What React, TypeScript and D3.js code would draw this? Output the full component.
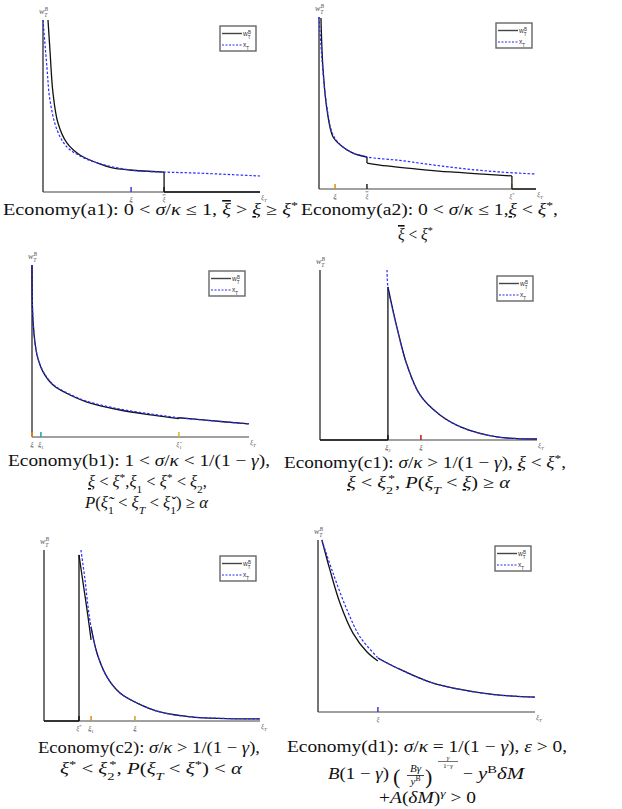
import React from 'react';
import * as d3 from 'd3';

type Pt = [number, number];
type Tick = { at: number; deco?: 'u' | 'o' | 't'; sub?: string; sup?: string };

// x = xi_T, y = wealth, both read as % of each panel's plotted range.
// w_T^B (black) is split where it jumps; x_T (blue dashed) is one piece.
const a1Wealth: Pt[][] = [
  [[2.3, 100], [3.2, 82.6], [4.6, 57.6], [6.9, 40.1], [11, 28.5], [17, 21.5], [25, 16.9], [32, 14], [40, 12.8], [55.8, 11.6]],
  [[55.8, 11.6], [55.8, 0]],
  [[55.8, 0], [100, 0]],
];
const a1Target: Pt[] = [[0, 100], [1.8, 72.7], [3.2, 53.5], [6.5, 36], [11, 26.2], [17, 21], [25, 16.9], [40, 12.8], [55.8, 11.6], [71, 11], [100, 9.3]];
const a1Ticks: Tick[] = [{ at: 40.6, deco: 'u' }, { at: 55.8, deco: 'o' }];
const a1TickColors = ['#3b3bd8', '#222'];

const a2Wealth: Pt[][] = [
  [[0.9, 99.4], [1.8, 70.9], [3.7, 45.9], [6.5, 30.2], [11, 24.4], [15.7, 20.9], [22.1, 18.6]],
  [[22.1, 18.6], [22.1, 15.1]],
  [[22.1, 15.1], [31.3, 13.4], [45.2, 11.6], [60.4, 9.9], [75.6, 8.7], [88.9, 7.6]],
  [[88.9, 7.6], [88.9, 0]],
  [[88.9, 0], [100, 0]],
];
const a2Target: Pt[] = [[0, 100], [1.4, 75], [3.2, 51.7], [6.5, 31.4], [11, 24.4], [15.7, 20.9], [22.1, 18.6], [37.3, 16.6], [52.5, 14], [68.2, 11.6], [83.4, 9.9], [100, 8.7]];
const a2Ticks: Tick[] = [{ at: 7.4, deco: 'u' }, { at: 22.1, deco: 'o' }, { at: 88.9, sup: '*' }];
const a2TickColors = ['#e08a10', '#222', '#e0c020'];

const b1Wealth: Pt[][] = [
  [[0, 100], [0.5, 66.9], [2.3, 47.7], [5.1, 37.8], [9.7, 30.2], [17.5, 24.4], [25.3, 20.3], [40.6, 15.7], [55.8, 12.7], [67.7, 10.7]],
  [[67.7, 10.7], [67.7, 11.2]],
  [[67.7, 11.2], [78.8, 9.9], [100, 7.6]],
];
const b1Target: Pt[] = [[0, 100], [0.5, 67.3], [2.3, 48.1], [5.1, 38.2], [9.7, 30.6], [17.5, 24.8], [25.3, 20.8], [40.6, 16.2], [55.8, 13.2], [67.7, 11.2], [78.8, 9.9], [100, 7.6]];
const b1Ticks: Tick[] = [{ at: 0, deco: 'u' }, { at: 4.1, deco: 'u', sub: '1' }, { at: 67.7, deco: 't', sub: '1' }];
const b1TickColors = ['#e08a10', '#20a0b0', '#d8b818'];

const c1Wealth: Pt[][] = [
  [[0, 0], [31.3, 0]],
  [[31.3, 0], [31.3, 90]],
  [[31.3, 90], [35.5, 65.9], [40.1, 44.1], [46.1, 26.5], [55.3, 14.7], [65.9, 7.1], [81.6, 1.8], [100, 0.6]],
];
const c1Target: Pt[] = [[30.9, 100], [31.3, 90], [35.5, 65.9], [40.1, 44.1], [46.1, 26.5], [55.3, 14.7], [65.9, 7.1], [81.6, 1.8], [100, 0.6]];
const c1Ticks: Tick[] = [{ at: 31.3, deco: 'u', sub: '2' }, { at: 46.5, deco: 'u' }];
const c1TickColors = ['#222', '#c01818'];

const c2Wealth: Pt[][] = [
  [[0, 0], [16.2, 0]],
  [[16.2, 0], [16.2, 97.1]],
  [[16.2, 97.1], [18.1, 80.7], [20.4, 60.8], [21.8, 47.4]],
  [[21.8, 55], [24.5, 39.8], [29.2, 25.7], [35.2, 16.4], [43.1, 10.5], [53.7, 5.3], [69, 2.3], [100, 1.2]],
];
const c2Target: Pt[] = [[17.1, 100], [19, 82.5], [20.4, 66.7], [21.8, 55], [24.5, 39.8], [29.2, 25.7], [35.2, 16.4], [43.1, 10.5], [53.7, 5.3], [69, 2.3], [100, 1.2]];
const c2Ticks: Tick[] = [{ at: 16.2, sup: '*' }, { at: 21.8, deco: 'u', sub: '1' }, { at: 42.1, deco: 'u' }];
const c2TickColors = ['#222', '#e08a10', '#d0a020'];

const d1Wealth: Pt[][] = [
  [[1.8, 100], [5.5, 82.6], [10.1, 63.4], [16.1, 45.9], [22.6, 34.9], [27.6, 29.7]],
  [[27.6, 31.4], [36.4, 25.6], [51.6, 17.4], [66.8, 12.8], [82.5, 9.9], [100, 8.7]],
];
const d1Target: Pt[] = [[1.8, 100], [6.9, 80.8], [13.4, 59.3], [19.4, 43.6], [27.2, 32], [27.6, 31.4], [36.4, 25.6], [51.6, 17.4], [66.8, 12.8], [82.5, 9.9], [100, 8.7]];
const d1Ticks: Tick[] = [{ at: 27.6 }];
const d1TickColors = ['#3b3bd8'];

const SERIF = "'Liberation Serif', 'DejaVu Serif', serif";
const SANS = "'Liberation Sans', Arial, sans-serif";

const I = ({ children }: any) => <tspan fontStyle="italic">{children}</tspan>;
const U = ({ children }: any) => <tspan fontStyle="italic" style={{ textDecoration: 'underline' }}>{children}</tspan>;
const O = ({ children }: any) => <tspan fontStyle="italic" style={{ textDecoration: 'overline' }}>{children}</tspan>;
const Sub = ({ children }: any) => <tspan baselineShift="sub" fontSize="70%">{children}</tspan>;
const Sup = ({ children, dx }: any) => <tspan baselineShift="super" fontSize="70%" dx={dx}>{children}</tspan>;

// caption line stretched to the width it has in the figure
const Cap = ({ x, y, w, children }: any) => (
  <text x={x} y={y} textLength={w} lengthAdjust="spacingAndGlyphs">
    {children}
  </text>
);

const TickLabel = ({ t, x, y }: { t: Tick; x: number; y: number }) => {
  const base = t.deco === 't' ? 'ξ\u0303' : 'ξ';
  const style = t.deco === 'u' ? { textDecoration: 'underline' } : t.deco === 'o' ? { textDecoration: 'overline' } : {};
  return (
    <text x={x} y={y} fontSize={7} fill="#555" fontFamily={SERIF} textAnchor="middle">
      <tspan fontStyle="italic" style={style}>{base}</tspan>
      {t.sub && <Sub>{t.sub}</Sub>}
      {t.sup && <Sup>{t.sup}</Sup>}
    </text>
  );
};

type Frame = { l: number; r: number; t: number; b: number };

function Panel({ f, wealth, target, ticks, tickColors }: { f: Frame; wealth: Pt[][]; target: Pt[]; ticks: Tick[]; tickColors: string[] }) {
  const x = d3.scaleLinear().domain([0, 100]).range([f.l, f.r]);
  const y = d3.scaleLinear().domain([0, 100]).range([f.b, f.t]);
  const line = d3
    .line<Pt>()
    .x((d) => x(d[0]))
    .y((d) => y(d[1]))
    .curve(d3.curveCatmullRom.alpha(0.5));
  const lgR = f.r - 4;
  const lgL = lgR - 36;
  const lgT = f.t + 6;
  return (
    <g>
      <line x1={f.l} x2={f.r} y1={f.b} y2={f.b} stroke="#808080" strokeWidth={1.4} />
      <line x1={f.l} x2={f.l} y1={f.b} y2={f.t} stroke="#3a3a3a" strokeWidth={1.4} />
      {ticks.map((t, i) => (
        <g key={i}>
          <line x1={x(t.at)} x2={x(t.at)} y1={f.b} y2={f.b - 5} stroke={tickColors[i]} strokeWidth={1.5} />
          <TickLabel t={t} x={x(t.at)} y={f.b + 8.5} />
        </g>
      ))}
      {wealth.map((seg, i) => (
        <path key={i} d={line(seg) || ''} fill="none" stroke="#111" strokeWidth={1.3} />
      ))}
      <path d={line(target) || ''} fill="none" stroke="#2a2aff" strokeWidth={1.2} strokeDasharray="2.5 1.8" />
      <text x={f.l - 4} y={f.t - 6} fontSize={8} fill="#555" fontFamily={SERIF} fontStyle="italic">
        w<Sub>T</Sub><Sup dx={-3}>B</Sup>
      </text>
      <text x={f.r + 1} y={f.b + 7} fontSize={7} fill="#555" fontFamily={SERIF} fontStyle="italic">
        ξ<Sub>T</Sub>
      </text>
      <rect x={lgL} y={lgT} width={36} height={25} fill="#fff" stroke="#666" strokeWidth={1.4} />
      <line x1={lgL + 2} x2={lgL + 22} y1={lgT + 7.5} y2={lgT + 7.5} stroke="#444" strokeWidth={1.4} />
      <line x1={lgL + 2} x2={lgL + 22} y1={lgT + 19} y2={lgT + 19} stroke="#2a2aff" strokeWidth={1.2} strokeDasharray="2 1.5" />
      <text x={lgL + 23} y={lgT + 9.5} fontSize={6.5} fill="#333" fontFamily={SANS}>
        w<Sub>T</Sub><Sup dx={-2.5}>B</Sup>
      </text>
      <text x={lgL + 23} y={lgT + 21} fontSize={6.5} fill="#333" fontFamily={SANS}>
        x<Sub>T</Sub>
      </text>
    </g>
  );
}

export default function App() {
  const cap = { fontFamily: SERIF, fontSize: 16, fill: '#111' };
  return (
    <svg width={622} height={809} style={{ position: 'absolute', left: 0, top: 0, background: '#fff' }}>
      <Panel f={{ l: 43, r: 260, t: 20, b: 192 }} wealth={a1Wealth} target={a1Target} ticks={a1Ticks} tickColors={a1TickColors} />
      <Panel f={{ l: 319, r: 536, t: 17, b: 189 }} wealth={a2Wealth} target={a2Target} ticks={a2Ticks} tickColors={a2TickColors} />
      <Panel f={{ l: 32, r: 249, t: 265, b: 437 }} wealth={b1Wealth} target={b1Target} ticks={b1Ticks} tickColors={b1TickColors} />
      <Panel f={{ l: 320, r: 537, t: 270, b: 440 }} wealth={c1Wealth} target={c1Target} ticks={c1Ticks} tickColors={c1TickColors} />
      <Panel f={{ l: 44, r: 260, t: 550, b: 721 }} wealth={c2Wealth} target={c2Target} ticks={c2Ticks} tickColors={c2TickColors} />
      <Panel f={{ l: 318, r: 535, t: 540, b: 712 }} wealth={d1Wealth} target={d1Target} ticks={d1Ticks} tickColors={d1TickColors} />

      <g {...cap}>
        <Cap x={3} y={215} w={295}>
          Economy(a1): 0 {'<'} <I>σ</I>/<I>κ</I> ≤ 1, <O>ξ</O> {'>'} <U>ξ</U> ≥ <I>ξ</I><Sup>*</Sup>
        </Cap>

        <Cap x={301} y={215} w={257}>
          Economy(a2): 0 {'<'} <I>σ</I>/<I>κ</I> ≤ 1,<U>ξ</U> {'<'} <I>ξ</I><Sup>*</Sup>,
        </Cap>
        <Cap x={398} y={240} w={35}>
          <O>ξ</O> {'<'} <I>ξ</I><Sup>*</Sup>
        </Cap>

        <Cap x={8} y={466} w={262}>
          Economy(b1): 1 {'<'} <I>σ</I>/<I>κ</I> {'<'} 1/(1 − <I>γ</I>),
        </Cap>
        <Cap x={88} y={487} w={119}>
          <U>ξ</U> {'<'} <I>ξ</I><Sup>*</Sup>,<I>ξ</I><Sub>1</Sub> {'<'} <I>ξ</I><Sup>*</Sup> {'<'} <I>ξ</I><Sub>2</Sub>,
        </Cap>
        <Cap x={85} y={508} w={123}>
          <I>P</I>(<I>{'ξ\u0303'}</I><Sub>1</Sub> {'<'} <I>ξ</I><Sub><I>T</I></Sub> {'<'} <I>{'ξ\u030C'}</I><Sub>1</Sub>) ≥ <I>α</I>
        </Cap>

        <Cap x={284} y={468} w={282}>
          Economy(c1): <I>σ</I>/<I>κ</I> {'>'} 1/(1 − <I>γ</I>), <U>ξ</U> {'<'} <I>ξ</I><Sup>*</Sup>,
        </Cap>
        <Cap x={347} y={488} w={163}>
          <U>ξ</U> {'<'} <I>ξ</I><Sub>2</Sub><Sup dx={-4}>*</Sup>, <I>P</I>(<I>ξ</I><Sub><I>T</I></Sub> {'<'} <U>ξ</U>) ≥ <I>α</I>
        </Cap>

        <Cap x={38} y={753} w={222}>
          Economy(c2): <I>σ</I>/<I>κ</I> {'>'} 1/(1 − <I>γ</I>),
        </Cap>
        <Cap x={60} y={774} w={182}>
          <I>ξ</I><Sup>*</Sup> {'<'} <I>ξ</I><Sub>2</Sub><Sup dx={-4}>*</Sup>, <I>P</I>(<I>ξ</I><Sub><I>T</I></Sub> {'<'} <I>ξ</I><Sup>*</Sup>) {'<'} <I>α</I>
        </Cap>

        <Cap x={287} y={752} w={280}>
          Economy(d1): <I>σ</I>/<I>κ</I> = 1/(1 − <I>γ</I>), <I>ε</I> {'>'} 0,
        </Cap>
        <Cap x={328} y={779} w={61}>
          <I>B</I>(1 − <I>γ</I>)
        </Cap>
        <text x={393} y={784} fontSize={22}>(</text>
        <text x={415.5} y={772} fontSize={11} textAnchor="middle">
          <I>Bγ</I>
        </text>
        <line x1={407} x2={424} y1={775.5} y2={775.5} stroke="#111" strokeWidth={0.8} />
        <text x={415.5} y={785} fontSize={11} textAnchor="middle">
          <I>y</I><Sup>B</Sup>
        </text>
        <text x={425} y={784} fontSize={22}>)</text>
        <text x={448} y={760} fontSize={6.5} textAnchor="middle">
          <I>γ</I>
        </text>
        <line x1={438} x2={458} y1={761.5} y2={761.5} stroke="#111" strokeWidth={0.6} />
        <text x={448} y={767.5} fontSize={6.5} textAnchor="middle">
          1−<I>γ</I>
        </text>
        <Cap x={463} y={779} w={10}>
          −
        </Cap>
        <Cap x={478} y={779} w={46}>
          <I>y</I><Sup>B</Sup><I>δM</I>
        </Cap>
        <Cap x={379} y={803} w={97}>
          +<I>A</I>(<I>δM</I>)<Sup><I>γ</I></Sup> {'>'} 0
        </Cap>
      </g>
    </svg>
  );
}
